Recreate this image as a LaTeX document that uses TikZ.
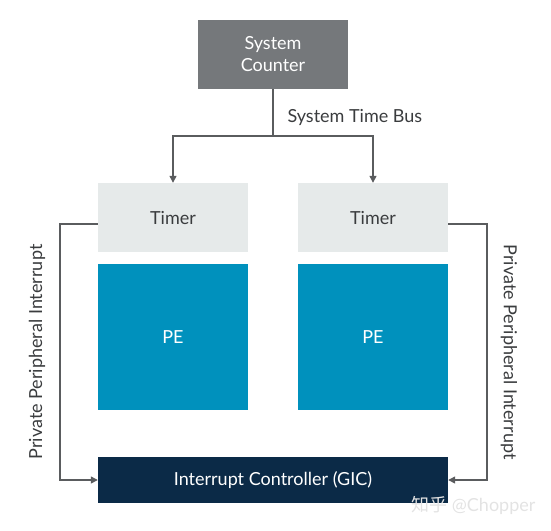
\documentclass[tikz,border=0pt]{standalone}
\usepackage{fontspec}
\setmainfont{Lato}
\newfontfamily\cjk{Noto Sans CJK SC}
\usetikzlibrary{arrows.meta}
\definecolor{cntgray}{HTML}{75787B}
\definecolor{timergray}{HTML}{E6EAEA}
\definecolor{peblue}{HTML}{0091BD}
\definecolor{gicnavy}{HTML}{0B2A47}
\definecolor{linegray}{HTML}{5A5C5E}
\definecolor{txtgray}{HTML}{3A3C3E}
\begin{document}
\begin{tikzpicture}[x=1pt,y=-1pt,
  box/.style={draw=none,minimum width=150pt,inner sep=0pt,font=\fontsize{18}{22}\selectfont},
  conn/.style={draw=linegray,line width=1.3pt,-{Triangle[length=7pt,width=7pt]}},
  lbl/.style={text=txtgray,font=\fontsize{18}{22}\selectfont}]
\useasboundingbox (0,0) rectangle (551,530);
\node[box,fill=cntgray,text=white,minimum height=69pt,align=center] (sc) at (273,54.5) {System\\Counter};
\node[box,fill=timergray,text=txtgray,minimum height=69pt] (t1) at (173,217.5) {Timer};
\node[box,fill=timergray,text=txtgray,minimum height=69pt] (t2) at (373,217.5) {Timer};
\node[box,fill=peblue,text=white,minimum height=146pt] (pe1) at (173,337) {PE};
\node[box,fill=peblue,text=white,minimum height=146pt] (pe2) at (373,337) {PE};
\node[box,fill=gicnavy,text=white,minimum width=350pt,minimum height=46pt] (gic) at (273,480) {Interrupt Controller (GIC)};
\coordinate (bus) at (273,136);
\draw[draw=linegray,line width=1.3pt] (sc.south) -- (bus);
\draw[conn] (bus) -| (t1.north);
\draw[conn] (bus) -| (t2.north);
\node[lbl,anchor=west] (busl) at (284,117) {System Time Bus};
\coordinate (lc) at (60,224);
\coordinate (rc) at (487,224);
\draw[conn] (t1.west |- lc) -- (lc) |- (gic.west);
\draw[conn] (t2.east |- rc) -- (rc) |- (gic.east);
\node[lbl,rotate=90] (ll) at (37,352) {Private Peripheral Interrupt};
\node[lbl,rotate=-90] (rl) at (509,352) {Private Peripheral Interrupt};
\node[text=white!78!gray,font=\fontsize{18}{20}\selectfont,anchor=east] (wm) at (539,505) {{\cjk 知乎} @Chopper};
\end{tikzpicture}
\end{document}
